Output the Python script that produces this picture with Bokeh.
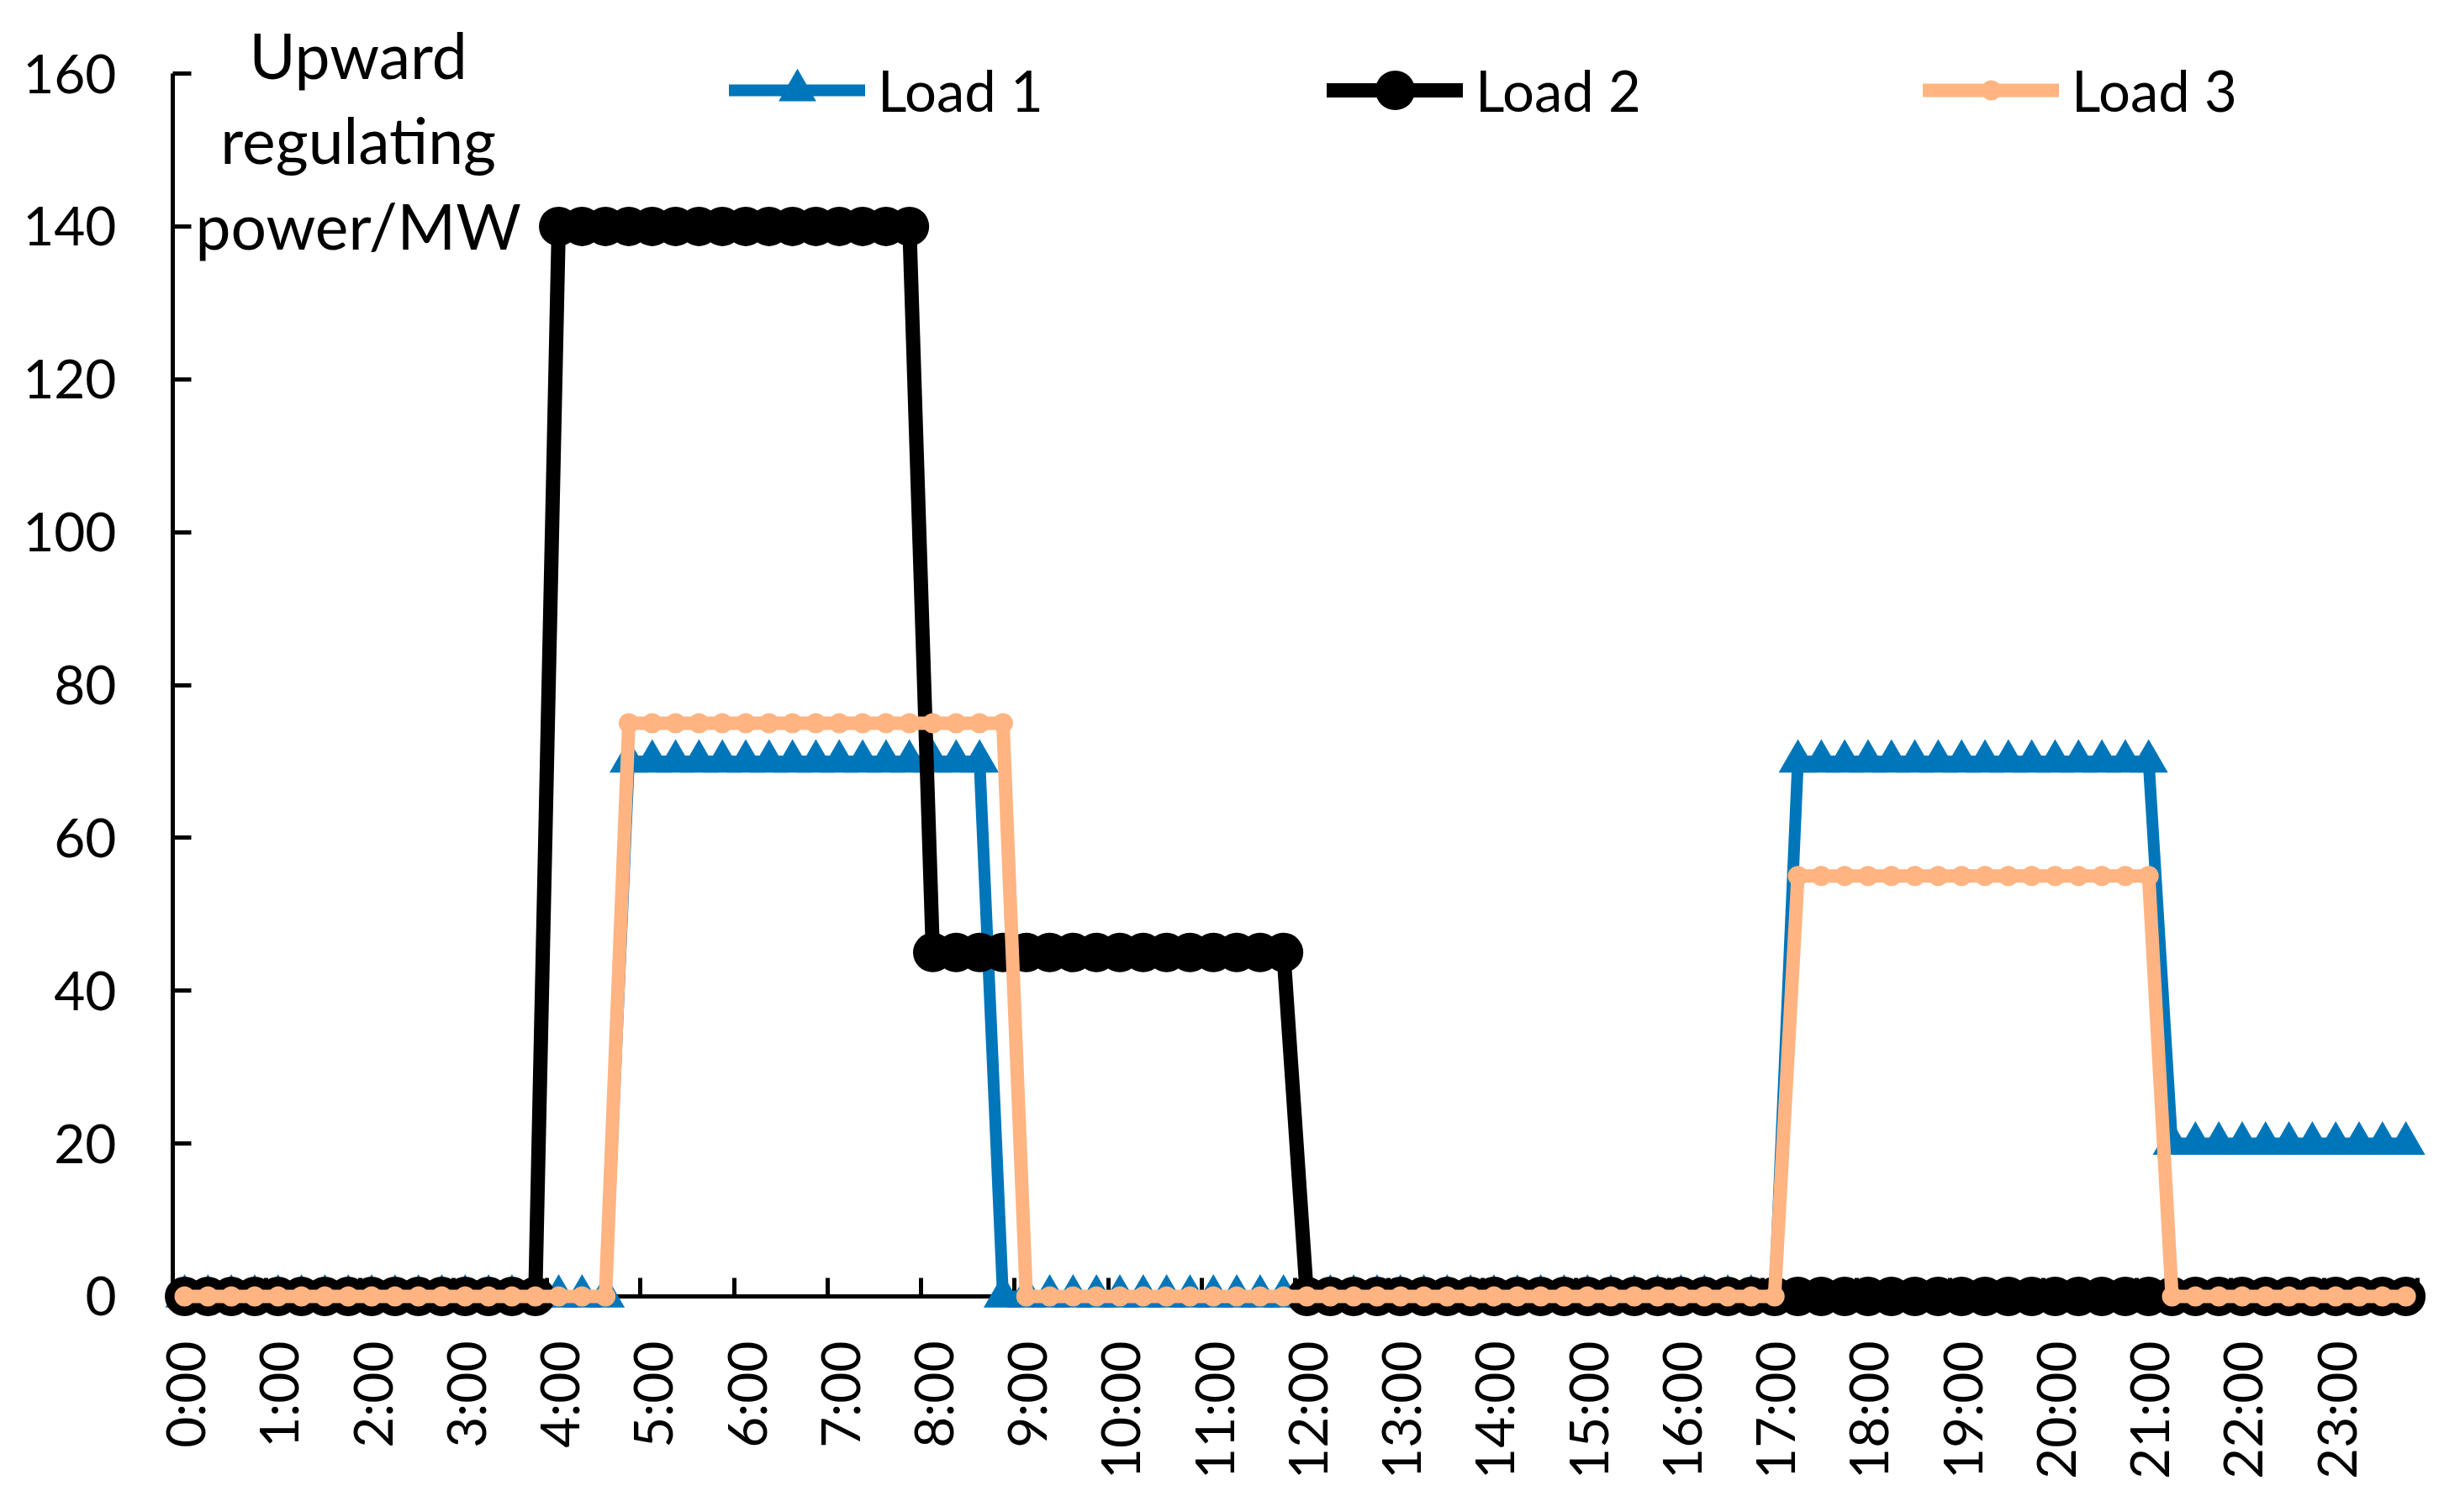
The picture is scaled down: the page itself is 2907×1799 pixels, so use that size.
import math
from bokeh.plotting import figure
from bokeh.models import (Range1d, LinearAxis, FixedTicker, Legend, LegendItem,
                          Label, ColumnDataSource)
from bokeh.embed import file_html
from bokeh.resources import INLINE

# ---------------- data ----------------
hour_labels = ["0:00", "1:00", "2:00", "3:00", "4:00", "5:00", "6:00", "7:00",
               "8:00", "9:00", "10:00", "11:00", "12:00", "13:00", "14:00", "15:00",
               "16:00", "17:00", "18:00", "19:00", "20:00", "21:00", "22:00", "23:00"]

# 96 quarter-hour slots (0:00 ... 23:45)
load1 = [0, 0, 0, 0, 0, 0, 0, 0, 0, 0, 0, 0, 0, 0, 0, 0, 0, 0, 0,
         70, 70, 70, 70, 70, 70, 70, 70, 70, 70, 70, 70, 70, 70, 70, 70,
         0, 0, 0, 0, 0, 0, 0, 0, 0, 0, 0, 0, 0, 0, 0, 0, 0,
         0, 0, 0, 0, 0, 0, 0, 0, 0, 0, 0, 0, 0, 0, 0, 0, 0,
         70, 70, 70, 70, 70, 70, 70, 70, 70, 70, 70, 70, 70, 70, 70, 70,
         20, 20, 20, 20, 20, 20, 20, 20, 20, 20, 20]

load2 = [0, 0, 0, 0, 0, 0, 0, 0, 0, 0, 0, 0, 0, 0, 0, 0,
         140, 140, 140, 140, 140, 140, 140, 140, 140, 140, 140, 140, 140, 140, 140, 140,
         45, 45, 45, 45, 45, 45, 45, 45, 45, 45, 45, 45, 45, 45, 45, 45,
         0, 0, 0, 0, 0, 0, 0, 0, 0, 0, 0, 0, 0, 0, 0, 0,
         0, 0, 0, 0, 0, 0, 0, 0, 0, 0, 0, 0, 0, 0, 0, 0,
         0, 0, 0, 0, 0, 0, 0, 0, 0, 0, 0, 0, 0, 0, 0, 0]

load3 = [0, 0, 0, 0, 0, 0, 0, 0, 0, 0, 0, 0, 0, 0, 0, 0, 0, 0, 0,
         75, 75, 75, 75, 75, 75, 75, 75, 75, 75, 75, 75, 75, 75, 75, 75, 75,
         0, 0, 0, 0, 0, 0, 0, 0, 0, 0, 0, 0, 0, 0, 0, 0, 0,
         0, 0, 0, 0, 0, 0, 0, 0, 0, 0, 0, 0, 0, 0, 0, 0,
         55, 55, 55, 55, 55, 55, 55, 55, 55, 55, 55, 55, 55, 55, 55, 55,
         0, 0, 0, 0, 0, 0, 0, 0, 0, 0, 0]

series_names = ["Load 1", "Load 2", "Load 3"]
y_ticks = [0, 20, 40, 60, 80, 100, 120, 140, 160]
y_title_lines = ["Upward", "regulating", "power/MW"]

# ---------------- styling ----------------
FONT = "Lato"
TICK_FS = "64px"
LEG_FS = "67px"
TITLE_FS = "75px"
BLUE = "#0076BA"
ORANGE = "#FFB482"

slots = list(range(len(load1)))
src = ColumnDataSource(dict(x=slots, load1=load1, load2=load2, load3=load3))

p = figure(frame_width=2693, frame_height=1543,
           output_backend="svg", toolbar_location=None,
           x_range=Range1d(-0.9, 95.93), y_range=Range1d(-2.64, 167.04),
           x_axis_type=None, y_axis_type=None,
           min_border_left=194, min_border_right=3, min_border_top=23,
           min_border_bottom=5)
p.outline_line_color = None
p.background_fill_color = "white"
p.border_fill_color = "white"

label_pos = [4 * i for i in range(len(hour_labels))]
boundaries = [4 * i - 0.5 for i in range(len(hour_labels) + 1)]

# x axis labels (at the frame bottom, standoff tuned to sit under the zero line)
xaxis_lab = LinearAxis(ticker=FixedTicker(ticks=label_pos),
                       major_label_overrides={pos: lab for pos, lab in zip(label_pos, hour_labels)},
                       major_label_orientation=math.pi / 2,
                       major_tick_in=0, major_tick_out=0, major_tick_line_color=None,
                       minor_tick_line_color=None, axis_line_color=None,
                       major_label_standoff=29,
                       major_label_text_font=FONT, major_label_text_font_size=TICK_FS,
                       major_label_text_color="black")
p.add_layout(xaxis_lab, "below")

# y axis labels
yaxis_lab = LinearAxis(ticker=FixedTicker(ticks=y_ticks),
                       major_tick_in=0, major_tick_out=0, major_tick_line_color=None,
                       minor_tick_line_color=None, axis_line_color=None,
                       major_label_standoff=56,
                       major_label_text_font=FONT, major_label_text_font_size=TICK_FS,
                       major_label_text_color="black")
p.add_layout(yaxis_lab, "left")

# x axis line + tick marks at category boundaries (behind the series)
xaxis_line = LinearAxis(fixed_location=0, bounds=(-0.5, len(slots) - 0.5),
                        ticker=FixedTicker(ticks=[], minor_ticks=boundaries),
                        major_tick_in=0, major_tick_out=0,
                        minor_tick_in=22, minor_tick_out=0, minor_tick_line_width=5,
                        minor_tick_line_color="black",
                        axis_line_width=5, axis_line_color="black",
                        major_label_standoff=0)
xaxis_line.level = "underlay"
p.add_layout(xaxis_line, "below")

# y axis line + tick marks
yaxis_line = LinearAxis(fixed_location=-0.5, bounds=(0, 160),
                        ticker=FixedTicker(ticks=[], minor_ticks=y_ticks),
                        major_tick_in=0, major_tick_out=0,
                        minor_tick_in=22, minor_tick_out=0, minor_tick_line_width=5,
                        minor_tick_line_color="black",
                        axis_line_width=5, axis_line_color="black",
                        major_label_standoff=0)
yaxis_line.level = "underlay"
p.add_layout(yaxis_line, "left")

# series (drawn in Excel order: line + markers per series)
l1 = p.line("x", "load1", source=src, line_color=BLUE, line_width=14,
            line_join="round", line_cap="round")
s1 = p.scatter("x", "load1", source=src, marker="triangle", size=46,
               fill_color=BLUE, line_color=None)
l2 = p.line("x", "load2", source=src, line_color="black", line_width=17,
            line_join="round", line_cap="round")
s2 = p.scatter("x", "load2", source=src, marker="circle", size=47,
               fill_color="black", line_color=None)
l3 = p.line("x", "load3", source=src, line_color=ORANGE, line_width=16,
            line_join="round", line_cap="round")
s3 = p.scatter("x", "load3", source=src, marker="circle", size=24,
               fill_color=ORANGE, line_color=None)

# legends (one per series so each keeps its own marker size)
legend_specs = [
    (series_names[0], [l1, s1], 112, (673, 1403)),
    (series_names[1], [l2, s2], 118, (1384, 1400)),
    (series_names[2], [l3, s3], 60, (2093, 1419)),
]
for name, rends, gh, loc in legend_specs:
    leg = Legend(items=[LegendItem(label=name, renderers=rends)],
                 location=loc, orientation="horizontal",
                 glyph_width=162, glyph_height=gh, label_standoff=15,
                 padding=0, margin=0, spacing=0,
                 border_line_color=None, background_fill_alpha=0,
                 label_text_font=FONT, label_text_font_size=LEG_FS,
                 label_text_color="black")
    p.add_layout(leg)

# horizontal y-axis title in three centred lines at the top-left
for line_text, yb in zip(y_title_lines, [162.5, 151.4, 140.2]):
    p.add_layout(Label(x=7.43, y=yb, text=line_text, text_align="center",
                       text_baseline="alphabetic", text_font=FONT,
                       text_font_size=TITLE_FS, text_color="black"))

open("out.html", "w").write(file_html(p, INLINE))
